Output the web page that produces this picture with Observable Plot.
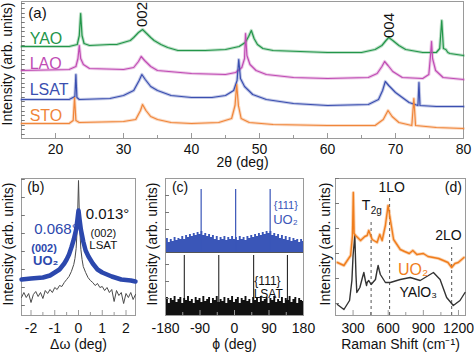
<!DOCTYPE html>
<html><head><meta charset="utf-8">
<script src="https://cdn.jsdelivr.net/npm/d3@7"></script>
<script src="https://cdn.jsdelivr.net/npm/@observablehq/plot@0.6"></script>
<style>
body{margin:0;background:#fff;}
#wrap{position:relative;width:474px;height:353px;background:#fff;overflow:hidden;}
.pn{position:absolute;}
.pn svg{background:transparent !important;overflow:visible;}
</style></head><body>
<div id="wrap">
<div class="pn" id="pa" style="left:0;top:0;width:474px"></div>
<div class="pn" id="pb" style="left:0;top:170px;width:140px"></div>
<div class="pn" id="pc" style="left:140px;top:170px;width:178px"></div>
<div class="pn" id="pd" style="left:318px;top:170px;width:156px"></div>
</div>
<script>
// ---------- Panel (a): XRD 2theta scans (arb. intensity, offset) ----------
const tthYAO = [15,22,23.2,23.5,23.7,23.9,24.2,25,28,29,30,31,31.5,32.2,32.8,33.4,34,34.5,35.5,36.5,38,42,45,47,47.9,48.4,48.8,49.2,49.7,50.5,52,56,60,65,67,68,68.6,69,69.6,70.5,71.5,74,76,76.5,76.8,77.05,77.4,77.7,78,80];
const iYAO   = [92,92,94,103,125,103,95,93,94,94,96,98,101,106,109,105,101,98,94,91,88,88,89,92,96,102,108,100,94,90,88,87,86,86,89,93,98,101,98,93,89,86,86,90,118,90,89,86,85,83];
const tthLAO = [15,22,23.0,23.3,23.5,23.7,24.1,25,30,31.5,32.2,32.6,33.1,34,35,40,45,46.5,47.4,47.8,47.95,48.15,48.6,49.5,51,55,60,66,67.3,68,68.4,68.9,69.6,71,74,74.9,75.15,75.3,75.45,75.9,77,80];
const iLAO   = [68,69,72,80,93,80,74,70,69,71,77,82,78,72,68,65,64,66,71,80,105,83,74,68,64,61,60,61,65,72,77,73,67,61,60,64,83,97,80,68,61,59];
const tthLSAT= [15,22,22.85,23.0,23.15,23.5,28,30,31.5,32.3,32.7,33.2,34,35,37,40,43,45,46.2,46.7,46.95,47.2,47.8,49,51,55,60,66,67.5,68.1,68.5,69,70,71,72,73.3,73.45,73.6,76,80];
const iLSAT  = [39,39,42,64,41,39,40,43,48,58,64,59,52,48,43,41,41,43,48,58,79,60,52,44,39,35,33,34,39,48,57,53,46,41,36,33,56,33,32,32];
const tthSTO = [15,22,22.6,22.8,23.0,23.5,30,31.8,32.5,32.8,33.3,34,35,37,40,44,45.9,46.4,46.65,46.9,47.3,48.5,52,60,67,68.2,68.9,69.5,70.5,72.4,72.7,72.95,76,80];
const iSTO   = [15,15,18,41,18,16,17,19,28,34,28,22,19,16,15,16,20,33,54,33,20,16,14,13,13,19,28,22,16,13,40,13,11,10];
const namesA  = ["YAO","LAO","LSAT","STO"];
const colorsA = ["#23964a","#c04cb4","#3b4fb0","#f0863a"];
const xTicksA = [20,30,40,50,60,70,80];
const xMinorA = [25,35,45,55,65,75];
const yMinorA = [4,9,13,18,23,27,32,37,41,46,51,55,60,65,69,74,79,83,88,93,97,102,107,111,116,121,125,130,135];

// ---------- Panel (b): rocking curves ----------
const dwLSAT = [-2.4,-2.3,-2.2,-2.1,-2.0,-1.9,-1.8,-1.7,-1.6,-1.5,-1.4,-1.3,-1.2,-1.1,-1.0,-0.9,-0.8,-0.7,-0.6,-0.5,-0.4,-0.3,-0.2,-0.15,-0.1,-0.05,0,0.05,0.1,0.15,0.2,0.3,0.4,0.5,0.6,0.7,0.8,0.9,1.0,1.1,1.2,1.3,1.4,1.5,1.6,1.7,1.8,1.9,2.0,2.1,2.2,2.3,2.4];
const iBLSAT = [18,23,18,22,13,21,24,19,23,17,25,22,26,23,28,26,30,29,33,36,39,44,51,57,67,89,135,87,66,56,49,43,38,35,33,30,32,28,29,25,28,23,26,14,25,20,23,12,22,18,23,16,21];
const dwUO2  = [-2.4,-2.0,-1.5,-1.2,-1.0,-0.8,-0.6,-0.5,-0.4,-0.3,-0.2,-0.1,-0.05,0,0.05,0.1,0.2,0.3,0.42,0.6,0.8,1.0,1.4,1.8,2.2,2.4];
const iBUO2  = [36,37,38,40,43,46,52,56,61,68,76,86,95,105,95,86,74,65,59,52,46,43,39,36,35,34];
const xTicksB = [-2,-1,0,1,2];
const xMinorB = [-1.5,-0.5,0.5,1.5];
const yMinorB = [10,28,46,64,82,100,118,136];

// ---------- Panel (c): phi scans ----------
const phiBand = [-180,-175,-170,-165,-160,-155,-150,-145,-140,-135,-130,-125,-120,-115,-110,-105,-100,-95,-90,-85,-80,-75,-70,-65,-60,-55,-50,-45,-40,-35,-30,-25,-20,-15,-10,-5,0,5,10,15,20,25,30,35,40,45,50,55,60,65,70,75,80,85,90,95,100,105,110,115,120,125,130,135,140,145,150,155,160,165,170,175,180];
const topUO2  = [74,77,73,76,74,78,75,77,76,79,76,80,78,81,79,82,80,83,81,84,80,82,79,81,78,80,76,79,75,78,76,79,75,78,76,79,76,78,75,79,76,78,75,79,77,80,78,81,79,82,80,83,81,84,82,84,80,82,79,81,77,80,76,79,75,78,74,77,75,76,73,76,74];
const topLSAT = [14,18,12,17,15,19,13,16,18,12,17,15,19,14,16,12,18,15,17,13,19,14,16,18,12,17,15,19,13,16,14,18,12,17,15,19,13,16,18,12,17,15,19,14,16,12,18,15,17,13,19,14,16,18,12,17,15,19,13,16,14,18,12,17,15,19,13,16,18,12,17,15,14];
const peaksUO2  = [-87,3,93];
const peaksLSAT = [-131,-41,50,138];
const baseUO2 = 63, peakUO2 = 126, peakLSAT = 60;
const xTicksC = [-180,-90,0,90,180];
const xMinorC = [-135,-45,45,135];
const yMinorC = [17,34,51,86,103,120];

// ---------- Panel (d): Raman ----------
const wnUO2 = [166,222,279,295,302,309,321,364,400,420,434,463,505,528,548,576,599,618,646,703,740,780,810,845,900,940,986,1030,1071,1110,1142,1170,1198,1247];
const iUO2R = [53,50,60,80,123,82,80,75,79,80,85,76,73,81,75,90,110,96,76,66,64,62,65,61,62,59,58,57,55,53,48,52,53,58];
const wnYAO = [166,222,270,290,300,315,325,332,358,380,392,405,415,420,434,454,491,505,514,524,533,576,618,703,788,873,986,1043,1099,1156,1213,1256];
const iYAOR = [11,6,15,35,60,80,40,23,28,38,43,35,30,33,35,31,36,45,50,45,41,33,33,36,38,35,43,36,18,10,15,23];
const modeNames = ["T2g","1LO","2LO"];
const modePos   = [454,612,1142];
const modeTop   = [96,117,68];
const xTicksD = [300,600,900,1200];
const xMinorD = [450,750,1050];
const yMinorD = [12,37,62,87,112,137];

const FONT = "'Liberation Sans', Arial, Helvetica, sans-serif";
const FR = "#9a9a9a";
const pts = (xs, ys) => xs.map((x, k) => ({x, y: ys[k]}));
const fmt = d => String(d);
const ylab = (dx, dy) => Plot.text(["Intensity (arb. units)"], {text: d => d, frameAnchor: "left", textAnchor: "middle", lineAnchor: "middle", rotate: -90, dx, dy, fontSize: 14, fill: "#111"});
const xlab = (s, dy) => Plot.text([s], {text: d => d, frameAnchor: "bottom", textAnchor: "middle", lineAnchor: "middle", dy, fontSize: 14, fill: "#111"});
const T = (s, o) => Plot.text([s], {text: d => d, ...o});
const STYLE = {fontFamily: FONT, fontSize: "14px", color: "#111", background: "transparent", overflow: "visible"};

// ---- (a)
const seriesA = [[tthYAO,iYAO],[tthLAO,iLAO],[tthLSAT,iLSAT],[tthSTO,iSTO]];
const labY = [100,75,49,23];
const plotA = Plot.plot({
  width: 474, height: 174, marginLeft: 21, marginRight: 11, marginTop: 1, marginBottom: 36,
  x: {domain: [15, 80]}, y: {domain: [0, 137], axis: null},
  style: STYLE,
  marks: [
    Plot.frame({stroke: FR}),
    Plot.ruleX(xTicksA, {x: d => d, y1: 0, y2: 5, stroke: FR}),
    Plot.ruleX(xMinorA, {x: d => d, y1: 0, y2: 3, stroke: FR}),
    Plot.ruleY(yMinorA, {y: d => d, x1: 15, x2: 15.55, stroke: "#777"}),
    ...seriesA.map((s, k) => Plot.line(pts(s[0], s[1]), {x: "x", y: "y", stroke: colorsA[k], strokeWidth: 3.2, strokeOpacity: 0.3})),
    ...seriesA.map((s, k) => Plot.line(pts(s[0], s[1]), {x: "x", y: "y", stroke: colorsA[k], strokeWidth: 1.2})),
    ...namesA.map((n, k) => T(n, {x: 16.2, y: labY[k], textAnchor: "start", fill: colorsA[k], fontSize: 16})),
    T("(a)", {x: 16.0, y: 125, textAnchor: "start", fontSize: 15}),
    T("002", {x: 32.8, y: 124, rotate: -90, fontSize: 15}),
    T("004", {x: 69.0, y: 113, rotate: -90, fontSize: 15}),
    Plot.axisX({ticks: xTicksA, tickSize: 0, tickPadding: 6, tickFormat: fmt, label: null}),
    xlab("2θ (deg)", 24.5),
    ylab(-13.5, -6)
  ]
});
document.getElementById("pa").appendChild(plotA);

// ---- (b)
const BLUE = "#2c48ad";
const plotB = Plot.plot({
  width: 140, height: 183, marginLeft: 21, marginRight: 5, marginTop: 8, marginBottom: 38,
  x: {domain: [-2.4, 2.4]}, y: {domain: [0, 137], axis: null},
  style: STYLE,
  marks: [
    Plot.frame({stroke: FR}),
    Plot.ruleX(xTicksB, {x: d => d, y1: 0, y2: 5, stroke: FR}),
    Plot.ruleX(xMinorB, {x: d => d, y1: 0, y2: 3, stroke: FR}),
    Plot.ruleY(yMinorB, {y: d => d, x1: -2.4, x2: -2.24, stroke: "#777"}),
    Plot.line(pts(dwLSAT, iBLSAT), {x: "x", y: "y", stroke: "#4a4a4a", strokeWidth: 1}),
    Plot.line(pts(dwUO2, iBUO2), {x: "x", y: "y", stroke: BLUE, strokeWidth: 4.5}),
    T("(b)", {x: -1.8, y: 128, fontSize: 14}),
    T("0.013°", {x: 1.22, y: 101, fontSize: 15, fill: "#111"}),
    T("0.068°", {x: -0.95, y: 86, fontSize: 15, fill: BLUE}),
    T("(002)", {x: -1.45, y: 67, fontSize: 11, fontWeight: "bold", fill: BLUE}),
    T("UO₂", {x: -1.38, y: 55, fontSize: 13, fontWeight: "bold", fill: BLUE}),
    T("(002)", {x: 1.05, y: 82, fontSize: 11, fill: "#111"}),
    T("LSAT", {x: 1.04, y: 70, fontSize: 11.5, fill: "#111"}),
    Plot.axisX({ticks: xTicksB, tickSize: 0, tickPadding: 8, tickFormat: fmt, label: null}),
    xlab("Δω (deg)", 29.5),
    ylab(-13, -3)
  ]
});
document.getElementById("pb").appendChild(plotB);

// ---- (c)
const BLUEC = "#3a56b8";
const plotC = Plot.plot({
  width: 178, height: 183, marginLeft: 25, marginRight: 15, marginTop: 8, marginBottom: 38,
  x: {domain: [-180, 180]}, y: {domain: [0, 137], axis: null},
  style: STYLE,
  marks: [
    Plot.areaY(pts(phiBand, topUO2), {x: "x", y1: baseUO2, y2: "y", fill: BLUEC, curve: "step"}),
    Plot.ruleX(peaksUO2, {x: d => d, y1: baseUO2, y2: peakUO2, stroke: BLUEC, strokeWidth: 1.2}),
    Plot.areaY(pts(phiBand, topLSAT), {x: "x", y1: 0, y2: "y", fill: "#111", curve: "step"}),
    Plot.ruleX(peaksLSAT, {x: d => d, y1: 0, y2: peakLSAT, stroke: "#111", strokeWidth: 1}),
    Plot.ruleY([baseUO2], {y: d => d, stroke: "#555"}),
    Plot.frame({stroke: FR}),
    Plot.ruleX(xTicksC, {x: d => d, y1: 0, y2: 5, stroke: FR}),
    Plot.ruleX(xMinorC, {x: d => d, y1: 0, y2: 3, stroke: FR}),
    Plot.ruleY(yMinorC, {y: d => d, x1: -180, x2: -169.5, stroke: "#777"}),
    T("(c)", {x: -142, y: 128, fontSize: 14}),
    T("{111}", {x: 134, y: 110, fontSize: 11, fill: BLUEC}),
    T("UO₂", {x: 133, y: 96, fontSize: 13, fill: BLUEC}),
    T("{111}", {x: 86, y: 34, fontSize: 12, fill: "#111"}),
    T("LSAT", {x: 88, y: 21, fontSize: 12, fill: "#111"}),
    Plot.axisX({ticks: xTicksC, tickSize: 0, tickPadding: 8, tickFormat: fmt, label: null}),
    xlab("ϕ (deg)", 29.5),
    ylab(-13, -3)
  ]
});
document.getElementById("pc").appendChild(plotC);

// ---- (d)
const ORANGE = "#f07d1c";
const modes = modeNames.map((n, k) => ({n, x: modePos[k], top: modeTop[k]}));
const plotD = Plot.plot({
  width: 156, height: 183, marginLeft: 17, marginRight: 9, marginTop: 8, marginBottom: 38,
  x: {domain: [150, 1260]}, y: {domain: [0, 137], axis: null},
  style: STYLE,
  marks: [
    Plot.frame({stroke: FR}),
    Plot.ruleX(xTicksD, {x: d => d, y1: 0, y2: 5, stroke: FR}),
    Plot.ruleX(xMinorD, {x: d => d, y1: 0, y2: 3, stroke: FR}),
    Plot.ruleY(yMinorD, {y: d => d, x1: 150, x2: 184, stroke: "#777"}),
    Plot.ruleX(modes, {x: "x", y1: 0, y2: "top", stroke: "#555", strokeDasharray: "3,3"}),
    Plot.line(pts(wnYAO, iYAOR), {x: "x", y: "y", stroke: "#333", strokeWidth: 1.4}),
    Plot.line(pts(wnUO2, iUO2R), {x: "x", y: "y", stroke: ORANGE, strokeWidth: 3.2, strokeOpacity: 0.35}),
    Plot.line(pts(wnUO2, iUO2R), {x: "x", y: "y", stroke: ORANGE, strokeWidth: 1.4}),
    T("(d)", {x: 1157, y: 128, fontSize: 14}),
    T("1LO", {x: 630, y: 128, fontSize: 14}),
    T("T", {x: 410, y: 110, fontSize: 14}),
    T("2g", {x: 450, y: 105, fontSize: 10, textAnchor: "start"}),
    T("2LO", {x: 1115, y: 80, fontSize: 14}),
    T("UO₂", {x: 813, y: 46, fontSize: 16, fill: ORANGE}),
    T("YAlO₃", {x: 856, y: 23, fontSize: 14, fill: "#111"}),
    Plot.axisX({ticks: xTicksD, tickSize: 0, tickPadding: 8, tickFormat: fmt, label: null}),
    xlab("Raman Shift (cm⁻¹)", 29.5),
    ylab(-10, -3)
  ]
});
document.getElementById("pd").appendChild(plotD);
</script>
</body></html>
